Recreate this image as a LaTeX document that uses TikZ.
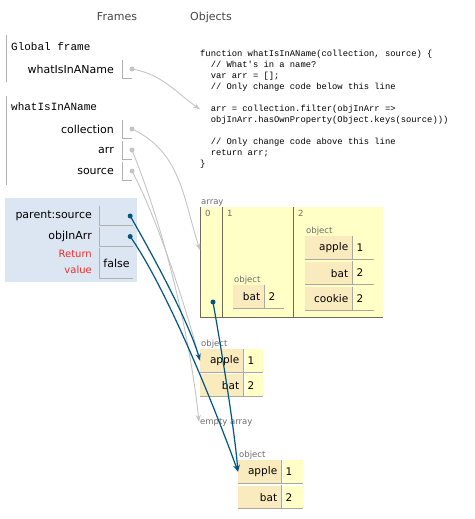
\documentclass[tikz,border=0pt]{standalone}
\usepackage{fontspec}
\setmainfont{DejaVu Sans}
\setmonofont{Liberation Mono}
\usetikzlibrary{arrows.meta,positioning}
\definecolor{framebg}{HTML}{DCE6F2}
\definecolor{arraybg}{HTML}{FFFFC6}
\definecolor{keybg}{HTML}{FAEBBF}
\definecolor{cellgray}{HTML}{A8A8A0}
\definecolor{arrgray}{HTML}{6E6A5C}
\definecolor{edgegray}{HTML}{B0B0B0}
\definecolor{ptrgray}{HTML}{C4C4C4}
\definecolor{ptrblue}{HTML}{005583}
\definecolor{retred}{HTML}{E8302A}
\definecolor{headgray}{HTML}{444444}
\tikzset{
    x=1pt, y=-1pt,
    lbl/.style = {font=\fontsize{11}{13}\selectfont, inner sep=0pt},
    monolbl/.style = {font=\ttfamily\fontsize{11}{13}\selectfont, inner sep=0pt},
    small/.style = {font=\fontsize{8.5}{10}\selectfont, text=gray!85!black, inner sep=1pt},
    slot/.style = {minimum width=18pt, minimum height=18pt, inner sep=0pt},
    slotline/.style = {draw=edgegray, line width=0.8pt},
    dot/.style = {circle, fill=#1, inner sep=0pt, minimum size=5pt, node contents={}},
    key/.style = {fill=keybg, minimum height=23pt, inner xsep=4pt, inner ysep=0pt,
        text width=#1, align=right, anchor=north west, font=\fontsize{10.5}{12}\selectfont},
    val/.style = {fill=arraybg, minimum height=23pt, inner xsep=3pt, inner ysep=0pt,
        text width=#1, align=left, font=\fontsize{10.5}{12}\selectfont},
    cellline/.style = {draw=cellgray, line width=0.8pt},
    arrline/.style = {draw=arrgray, line width=1pt},
    grayptr/.style = {draw=ptrgray, line width=0.9pt, -{Stealth[length=7pt,width=5pt]}},
    blueptr/.style = {draw=ptrblue, line width=1.2pt, -{Stealth[length=7pt,width=5pt]}}
}
\begin{document}
\begin{tikzpicture}
        \useasboundingbox (0,0) rectangle (474,519);

        % headers
        \node[lbl, text=headgray] (hframes) at (117,17) {Frames};
        \node[lbl, text=headgray] (hobjects) at (211,17) {Objects};

        % global frame
        \draw[slotline] (6,35) -- (6,82);
        \node[monolbl, anchor=west] (gtitle) at (11,47) {Global frame};
        \node[lbl, anchor=east] (lglob) at (114,69) {whatIsInAName};
        \node[slot] (sglob) at (132,69) {};
        \draw[slotline] (sglob.north west) |- (sglob.south);
        \node (dglob) at (sglob.center) [dot=ptrgray];

        % call frame
        \draw[slotline] (6,96) -- (6,185);
        \node[monolbl, anchor=west] (ftitle) at (11,107) {whatIsInAName};
        \node[lbl, anchor=east] (lcoll) at (114,129) {collection};
        \node[lbl, anchor=east] (larr) at (114,150) {arr};
        \node[lbl, anchor=east] (lsrc) at (114,171) {source};
        \node[slot] (scoll) at (132,129) {};
        \node[slot] (sarr) at (132,150) {};
        \node[slot] (ssrc) at (132,171) {};
        \foreach \s in {scoll,sarr,ssrc}
            \draw[slotline] (\s.north west) |- (\s.south);
        \node (dcoll) at (scoll.center) [dot=ptrgray];
        \node (darr) at (sarr.center) [dot=ptrgray];
        \node (dsrc) at (ssrc.center) [dot=ptrgray];

        % current frame
        \node[fill=framebg, minimum width=132pt, minimum height=84pt, inner sep=0pt,
            anchor=north west] (cur) at (5,198) {};
        \node[lbl, anchor=east] (lpsrc) at (92,216) {parent:source};
        \node[lbl, anchor=east] (lobj) at (92,236) {objInArr};
        \node[lbl, anchor=east, align=right, text=retred,
            font=\fontsize{10}{16}\selectfont] (lret) at (92,262) {Return\\value};
        \node[slot, minimum width=33pt, minimum height=19pt] (spsrc) at (116.5,216) {};
        \node[slot, minimum width=33pt, minimum height=19pt] (sobj) at (116.5,236.5) {};
        \node[slot, lbl, minimum width=33pt, minimum height=30pt] (sret) at (116.5,263) {false};
        \foreach \s in {spsrc,sobj,sret}
            \draw[slotline] (\s.north west) |- (\s.south east);
        \node (dpsrc) at ([xshift=-3pt]spsrc.east) [dot=ptrblue];
        \node (dobj) at ([xshift=-3pt]sobj.east) [dot=ptrblue];

        % code
        \node[anchor=north west, align=left, inner sep=0pt,
            font=\ttfamily\fontsize{8.8}{11}\selectfont] (code) at (200,50)
        {function whatIsInAName(collection, source) \{\\
         ~~// What's in a name?\\
         ~~var arr = [];\\
         ~~// Only change code below this line\\[11pt]
         ~~arr = collection.filter(objInArr =>\\
         ~~objInArr.hasOwnProperty(Object.keys(source)))\\[11pt]
         ~~// Only change code above this line\\
         ~~return arr;\\
         \}};

        % array
        \node[fill=arraybg, minimum width=183pt, minimum height=110pt, inner sep=0pt,
            anchor=north west] (arr) at (200,207) {};
        \draw[arrline] (arr.north west) |- (arr.south east);
        \draw[arrline] ([xshift=22pt]arr.north west) -- ([xshift=22pt]arr.south west);
        \draw[arrline] ([xshift=93pt]arr.north west) -- ([xshift=93pt]arr.south west);
        \node[small, anchor=south west] (arrlbl) at (arr.north west) {array};
        \node[small, anchor=north west] (i0) at (204,209) {0};
        \node[small, anchor=north west] (i1) at (226,209) {1};
        \node[small, anchor=north west] (i2) at (297,209) {2};
        \node (dzero) at (213,302) [dot=ptrblue];

        % object in cell 1
        \node[key=23pt] (caK) at (233,285) {bat};
        \node[val=12pt, right=1pt of caK] (caV) {2};
        \node[small, anchor=south west] (clbl) at (caK.north west) {object};

        % object in cell 2
        \node[key=39pt] (daK) at (305,236) {apple};
        \node[val=14pt, right=1pt of daK] (daV) {1};
        \node[key=39pt, below=2pt of daK] (dbK) {bat};
        \node[val=14pt, right=1pt of dbK] (dbV) {2};
        \node[key=39pt, below=2pt of dbK] (dcK) {cookie};
        \node[val=14pt, right=1pt of dcK] (dcV) {2};
        \node[small, anchor=south west] (dlbl) at (daK.north west) {object};

        % object 1
        \node[key=35pt] (oaK) at (200,349) {apple};
        \node[val=12pt, right=1pt of oaK] (oaV) {1};
        \node[key=35pt, below=1pt of oaK] (obK) {bat};
        \node[val=12pt, right=1pt of obK] (obV) {2};
        \node[small, anchor=south west] (olbl) at (oaK.north west) {object};

        % empty array
        \node[small, anchor=west] (empty) at (199,422) {empty array};

        % object 2
        \node[key=35pt] (paK) at (238,460) {apple};
        \node[val=14pt, right=1pt of paK] (paV) {1};
        \node[key=35pt, below=2pt of paK] (pbK) {bat};
        \node[val=14pt, right=1pt of pbK] (pbV) {2};
        \node[small, anchor=south west] (plbl) at (paK.north west) {object};

        \foreach \row in {ca,da,db,dc,oa,ob,pa,pb}
            \draw[cellline] (\row K.south west) -- (\row V.south east)
                            (\row K.north east) -- (\row K.south east);

        % pointers
        \draw[grayptr] (dglob.center) to[out=-10,in=145] (code.west);
        \draw[grayptr] (dcoll.center) to[out=-25,in=108] ([yshift=12pt]arr.west);
        \draw[grayptr] (darr.center) to[out=-68,in=96,looseness=0.8] (empty.west);
        \draw[grayptr] (dsrc.center) to[out=-62,in=105,looseness=0.7] (oaK.west);
        \draw[blueptr] (dpsrc.center) to[out=-60,in=106,looseness=0.66] (oaK.west);
        \draw[blueptr] (dobj.center) to[out=-55,in=110,looseness=0.65] (paK.west);
        \draw[blueptr] (dzero.center) to[out=-80,in=95,looseness=0.7] (paK.west);
\end{tikzpicture}
\end{document}
